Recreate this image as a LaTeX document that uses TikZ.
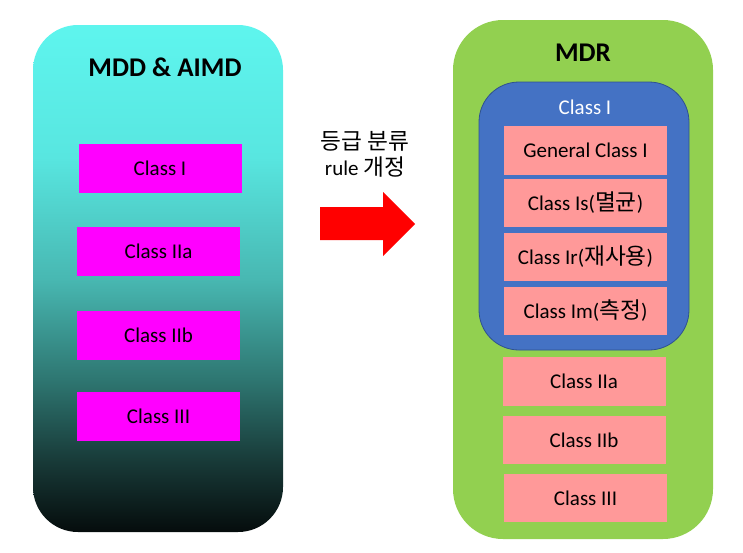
\documentclass[tikz,border=0pt]{standalone}
\usepackage{fontspec}
\setmainfont{Carlito}
\newfontfamily\kr[Scale=1.08]{Noto Sans CJK KR}
\definecolor{gA}{RGB}{94,245,238}
\definecolor{gB}{RGB}{88,230,224}
\definecolor{gC}{RGB}{72,184,178}
\definecolor{gD}{RGB}{46,118,113}
\definecolor{gE}{RGB}{24,58,56}
\definecolor{gF}{RGB}{5,12,12}
\definecolor{magbox}{RGB}{255,0,255}
\definecolor{pinkbox}{RGB}{255,153,153}
\definecolor{mdrgreen}{RGB}{146,208,80}
\definecolor{classblue}{RGB}{68,114,196}
\definecolor{classblueedge}{RGB}{47,82,143}
\pgfdeclareverticalshading{mddgrad}{100bp}{color(0bp)=(gF); color(25bp)=(gF); color(32bp)=(gE); color(40bp)=(gD); color(50bp)=(gC); color(62bp)=(gB); color(75bp)=(gA); color(100bp)=(gA)}
\tikzset{
  panel/.style={rounded corners=45pt, inner sep=0pt, draw=none},
  magcls/.style={fill=magbox, minimum width=163pt, minimum height=49pt, inner sep=0pt,
    font=\fontsize{21}{25}\selectfont},
  pinkcls/.style={fill=pinkbox, minimum width=163pt, minimum height=48.5pt, inner sep=0pt,
    font=\fontsize{21}{25}\selectfont},
  titletext/.style={font=\fontsize{27}{32}\selectfont\bfseries},
  labeltext/.style={font=\fontsize{21}{25}\selectfont}
}
\begin{document}
\begin{tikzpicture}[x=1pt,y=-1pt]
\useasboundingbox (0,0) rectangle (743,552);
% left panel
\node[panel, shading=mddgrad, minimum width=250pt, minimum height=507pt] (left) at (158,278.5) {};
\node[titletext] (mddtitle) at (165,67) {MDD \& AIMD};
\node[magcls] (l1) at (160,168.5) {Class I};
\node[magcls] (l2) at (158.5,251.5) {Class IIa};
\node[magcls] (l3) at (158.5,335.5) {Class IIb};
\node[magcls] (l4) at (158.5,416.5) {Class III};
% middle text and arrow
\node[labeltext] (t1) at (365,141) {\kr 등급 분류};
\node[labeltext] (t2) at (365,167) {rule \kr 개정};
\fill[red] (320,207) -- (383,207) -- (383,192) -- (415,224) -- (383,256) -- (383,240) -- (320,240) -- cycle;
% right panel
\node[panel, fill=mdrgreen, rounded corners=50pt, minimum width=260pt, minimum height=519pt] (right) at (583,279.5) {};
\node[titletext] (mdrtitle) at (583,53) {MDR};
\node[panel, fill=classblue, draw=classblueedge, line width=0.8pt, rounded corners=40pt, minimum width=210pt, minimum height=268pt] (blue) at (584,216) {};
\node[font=\fontsize{21}{25}\selectfont, text=white] (bluetitle) at (585,107) {Class I};
\node[pinkcls] (r1) at (585.5,150.5) {General Class I};
\node[pinkcls] (r2) at (585.5,203) {Class Is(\kr 멸균\rmfamily)};
\node[pinkcls] (r3) at (585.5,257) {Class Ir(\kr 재사용\rmfamily)};
\node[pinkcls] (r4) at (585.5,311) {Class Im(\kr 측정\rmfamily)};
\node[pinkcls] (r5) at (584,381.5) {Class IIa};
\node[pinkcls] (r6) at (584,440) {Class IIb};
\node[pinkcls] (r7) at (585.5,498) {Class III};
\end{tikzpicture}
\end{document}
